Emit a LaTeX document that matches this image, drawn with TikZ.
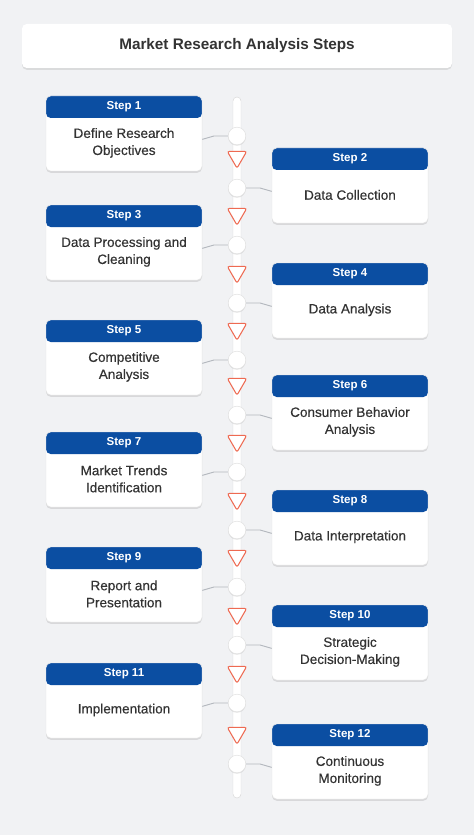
\documentclass[tikz,border=0pt]{standalone}
\usepackage{fontspec}
\setmainfont{Liberation Sans}
\newfontfamily\mediumfont{Liberation Sans}[FakeBold=0.35]
\usepackage{xcolor}
\definecolor{StepBlue}{HTML}{0B4EA2}
\definecolor{InkGray}{HTML}{333333}
\definecolor{PageGray}{HTML}{F1F2F4}
\definecolor{ArrowRed}{HTML}{EE6A52}
\definecolor{LineGray}{HTML}{B4B8BE}
\usetikzlibrary{shapes.geometric,shadows}

\begin{document}
\begin{tikzpicture}[x=0.85pt,y=-0.85pt,
  titlebox/.style={fill=white,rounded corners=4pt,minimum width=365.5pt,minimum height=37.4pt,text=InkGray,
    font=\bfseries\fontsize{13}{15}\selectfont,drop shadow={shadow xshift=0pt,shadow yshift=-1.5pt,opacity=0.2}},
  card/.style={draw=black!10,fill=white,rounded corners=4pt,minimum width=132.6pt,minimum height=63.75pt,inner sep=0pt,
    drop shadow={shadow xshift=0pt,shadow yshift=-1.5pt,opacity=0.22},
    path picture={\fill[StepBlue] (path picture bounding box.north west) rectangle ([yshift=-18.7pt]path picture bounding box.north east);}},
  tag/.style={text=white,font=\bfseries\fontsize{9.8}{11}\selectfont},
  steptext/.style={text=InkGray,align=center,font=\mediumfont\fontsize{11.5}{14.5}\selectfont},
  spine/.style={fill=white,draw=black!15,rounded corners=3.4pt,minimum width=6.8pt,minimum height=595.9pt,inner sep=0pt},
  dot/.style={circle,fill=white,draw=black!12,minimum size=15pt,inner sep=0pt,
    drop shadow={shadow xshift=0pt,shadow yshift=-0.8pt,opacity=0.2}},
  tri/.style={regular polygon,regular polygon sides=3,shape border rotate=180,draw=ArrowRed,fill=white,
    line width=0.9pt,minimum size=19pt,inner sep=0pt,rounded corners=1.8pt},
  link/.style={draw=LineGray,line width=0.8pt}
]
  % page and title
  \fill[PageGray] (0,0) rectangle (474,835);
  \node[titlebox] (title) at (237,46) {Market Research Analysis Steps};
  \node[spine] (spine) at (237,447.5) {};

  % step 1
  \node[card] (s1) at (124,133.5) {};
  \node[tag] (h1) at ([yshift=-9.35pt]s1.north) {Step 1};
  \node[steptext] (t1) at ([yshift=-8pt]s1.center) {Define Research\\Objectives};
  \node[dot] (c1) at (237,136) {};
  \draw[link] (c1.west) -- ++(-14,0) -- ([yshift=-5pt]s1.east);
  % step 2
  \node[card] (s2) at (350,185.5) {};
  \node[tag] (h2) at ([yshift=-9.35pt]s2.north) {Step 2};
  \node[steptext] (t2) at ([yshift=-8pt]s2.center) {Data Collection};
  \node[dot] (c2) at (237,188) {};
  \draw[link] (c2.east) -- ++(14,0) -- ([yshift=-5pt]s2.west);
  % step 3
  \node[card] (s3) at (124,242.5) {};
  \node[tag] (h3) at ([yshift=-9.35pt]s3.north) {Step 3};
  \node[steptext] (t3) at ([yshift=-8pt]s3.center) {Data Processing and\\Cleaning};
  \node[dot] (c3) at (237,245) {};
  \draw[link] (c3.west) -- ++(-14,0) -- ([yshift=-5pt]s3.east);
  % step 4
  \node[card] (s4) at (350,300.5) {};
  \node[tag] (h4) at ([yshift=-9.35pt]s4.north) {Step 4};
  \node[steptext] (t4) at ([yshift=-8pt]s4.center) {Data Analysis};
  \node[dot] (c4) at (237,303) {};
  \draw[link] (c4.east) -- ++(14,0) -- ([yshift=-5pt]s4.west);
  % step 5
  \node[card] (s5) at (124,357.5) {};
  \node[tag] (h5) at ([yshift=-9.35pt]s5.north) {Step 5};
  \node[steptext] (t5) at ([yshift=-8pt]s5.center) {Competitive\\Analysis};
  \node[dot] (c5) at (237,360) {};
  \draw[link] (c5.west) -- ++(-14,0) -- ([yshift=-5pt]s5.east);
  % step 6
  \node[card] (s6) at (350,412.5) {};
  \node[tag] (h6) at ([yshift=-9.35pt]s6.north) {Step 6};
  \node[steptext] (t6) at ([yshift=-8pt]s6.center) {Consumer Behavior\\Analysis};
  \node[dot] (c6) at (237,415) {};
  \draw[link] (c6.east) -- ++(14,0) -- ([yshift=-5pt]s6.west);
  % step 7
  \node[card] (s7) at (124,469.5) {};
  \node[tag] (h7) at ([yshift=-9.35pt]s7.north) {Step 7};
  \node[steptext] (t7) at ([yshift=-8pt]s7.center) {Market Trends\\Identification};
  \node[dot] (c7) at (237,472) {};
  \draw[link] (c7.west) -- ++(-14,0) -- ([yshift=-5pt]s7.east);
  % step 8
  \node[card] (s8) at (350,527.5) {};
  \node[tag] (h8) at ([yshift=-9.35pt]s8.north) {Step 8};
  \node[steptext] (t8) at ([yshift=-8pt]s8.center) {Data Interpretation};
  \node[dot] (c8) at (237,530) {};
  \draw[link] (c8.east) -- ++(14,0) -- ([yshift=-5pt]s8.west);
  % step 9
  \node[card] (s9) at (124,584.5) {};
  \node[tag] (h9) at ([yshift=-9.35pt]s9.north) {Step 9};
  \node[steptext] (t9) at ([yshift=-8pt]s9.center) {Report and\\Presentation};
  \node[dot] (c9) at (237,587) {};
  \draw[link] (c9.west) -- ++(-14,0) -- ([yshift=-5pt]s9.east);
  % step 10
  \node[card] (s10) at (350,642.5) {};
  \node[tag] (h10) at ([yshift=-9.35pt]s10.north) {Step 10};
  \node[steptext] (t10) at ([yshift=-8pt]s10.center) {Strategic\\Decision-Making};
  \node[dot] (c10) at (237,645) {};
  \draw[link] (c10.east) -- ++(14,0) -- ([yshift=-5pt]s10.west);
  % step 11
  \node[card] (s11) at (124,700.5) {};
  \node[tag] (h11) at ([yshift=-9.35pt]s11.north) {Step 11};
  \node[steptext] (t11) at ([yshift=-8pt]s11.center) {Implementation};
  \node[dot] (c11) at (237,703) {};
  \draw[link] (c11.west) -- ++(-14,0) -- ([yshift=-5pt]s11.east);
  % step 12
  \node[card] (s12) at (350,761.5) {};
  \node[tag] (h12) at ([yshift=-9.35pt]s12.north) {Step 12};
  \node[steptext] (t12) at ([yshift=-8pt]s12.center) {Continuous\\Monitoring};
  \node[dot] (c12) at (237,764) {};
  \draw[link] (c12.east) -- ++(14,0) -- ([yshift=-5pt]s12.west);

  % arrows on the spine
  \node[tri] (a1) at (237,157) {};
  \node[tri] (a2) at (237,214) {};
  \node[tri] (a3) at (237,272) {};
  \node[tri] (a4) at (237,329) {};
  \node[tri] (a5) at (237,384) {};
  \node[tri] (a6) at (237,441) {};
  \node[tri] (a7) at (237,499) {};
  \node[tri] (a8) at (237,556) {};
  \node[tri] (a9) at (237,614) {};
  \node[tri] (a10) at (237,672) {};
  \node[tri] (a11) at (237,733) {};
\end{tikzpicture}
\end{document}
